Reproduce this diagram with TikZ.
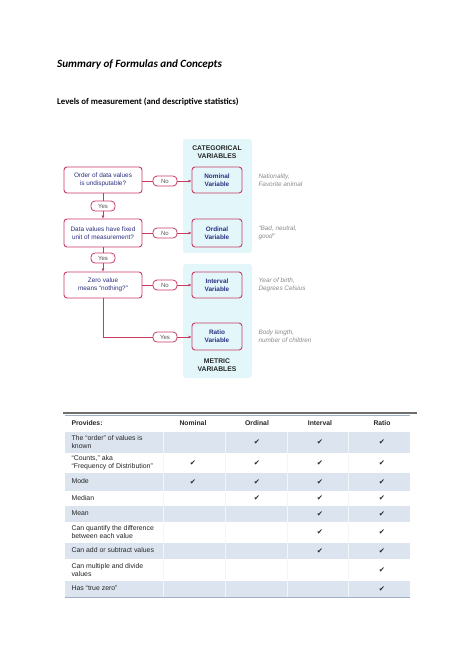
\documentclass[tikz,border=0pt]{standalone}
\usepackage{fontspec}
\setmainfont{Liberation Sans}
\newfontfamily\calibri{Carlito}
\newfontfamily\dejavu{DejaVu Sans}
\usetikzlibrary{arrows.meta}
\definecolor{crim}{HTML}{C93A62}
\definecolor{navy}{HTML}{2B2F80}
\definecolor{pillgray}{HTML}{555555}
\definecolor{cyanbg}{HTML}{E3F7FB}
\definecolor{sidegray}{HTML}{8A8A8A}
\definecolor{rowshade}{HTML}{DCE5EF}
\definecolor{rulegray}{HTML}{6E6E6E}
\definecolor{rulelight}{HTML}{9FB0C4}
\begin{document}
\begin{tikzpicture}[x=1pt,y=-1pt,
  decision/.style={draw=crim, line width=0.9pt, rounded corners=3pt, minimum width=78pt,
    minimum height=26pt, align=center, text=navy, inner sep=1pt,
    font=\fontsize{6.4}{7.6}\selectfont},
  result/.style={decision, minimum width=50pt, font=\fontsize{6.4}{7.6}\selectfont\bfseries},
  pill/.style={draw=crim, line width=0.8pt, rounded corners=4pt, minimum width=24pt,
    minimum height=10pt, inner sep=0pt, text=pillgray, fill=white,
    font=\fontsize{6}{6.5}\selectfont},
  conn/.style={draw=crim, color=crim, line width=1pt},
  arr/.style={conn, -{Latex[length=3pt,width=3pt]}},
  groupbg/.style={fill=cyanbg, rounded corners=3pt},
  grouplabel/.style={align=center, font=\fontsize{6.8}{8}\selectfont\bfseries, text=black!85},
  side/.style={anchor=west, align=left, text=sidegray, font=\fontsize{6.4}{7.6}\selectfont\itshape},
  rowtext/.style={anchor=west, align=left, text=black!85, font=\fontsize{6.9}{8}\selectfont},
  headtext/.style={font=\fontsize{6.8}{8}\selectfont\bfseries, text=black!85},
  chk/.style={font=\dejavu\fontsize{7.3}{8}\selectfont, text=black!85}
]
\useasboundingbox[fill=white] (0,0) rectangle (474,670);

% Titles
\node[anchor=west, inner sep=0pt, font=\calibri\bfseries\itshape\fontsize{11.1}{13}\selectfont] (title) at (57,64) {Summary of Formulas and Concepts};
\node[anchor=west, inner sep=0pt, font=\calibri\bfseries\fontsize{8.8}{10}\selectfont] (subtitle) at (57,102) {Levels of measurement (and descriptive statistics)};

% Group backgrounds
\path[groupbg] (183,139) rectangle (252,253);
\path[groupbg] (183,264) rectangle (252,378);
\node[grouplabel] (catlab) at (217,152) {CATEGORICAL\\VARIABLES};
\node[grouplabel] (metlab) at (217,365) {METRIC\\VARIABLES};

% Decision boxes
\node[decision] (d1) at (103,180) {Order of data values\\is undisputable?};
\node[decision, minimum height=28pt] (d2) at (103,233) {Data values have fixed\\unit of measurement?};
\node[decision] (d3) at (103,285) {Zero value\\means “nothing?”};

% Result boxes
\node[result] (r1) at (217,180) {Nominal\\Variable};
\node[result, minimum height=28pt] (r2) at (217,233) {Ordinal\\Variable};
\node[result] (r3) at (217,285) {Interval\\Variable};
\node[result, minimum height=27pt] (r4) at (217,336.5) {Ratio\\Variable};

% Pills
\node[pill] (no1) at (165,181) {No};
\node[pill] (no2) at (165,233) {No};
\node[pill] (no3) at (165,285) {No};
\node[pill] (yes1) at (103,206) {Yes};
\node[pill] (yes2) at (103,258) {Yes};
\node[pill] (yes3) at (165,337) {Yes};

% Connectors
\draw[conn] (d1.east |- no1) -- (no1.west);
\draw[arr] (no1.east) -- (r1.west |- no1);
\draw[conn] (d2.east) -- (no2.west);
\draw[arr] (no2.east) -- (r2.west);
\draw[conn] (d3.east) -- (no3.west);
\draw[arr] (no3.east) -- (r3.west);
\draw[conn] (d1.south) -- (yes1.north);
\draw[arr] (yes1.south) -- (d2.north);
\draw[conn] (d2.south) -- (yes2.north);
\draw[arr] (yes2.south) -- (d3.north);
\draw[conn] (d3.south) |- (yes3.west);
\draw[arr] (yes3.east) -- (r4.west |- yes3);

% Side notes
\node[side] (s1) at (255,180) {Nationality,\\Favorite animal};
\node[side] (s2) at (255,233) {“Bad, neutral,\\good”};
\node[side] (s3) at (255,285) {Year of birth,\\Degrees Celsius};
\node[side] (s4) at (255,336) {Body length,\\number of children};

% Table shading
\foreach \a/\b in {432/453, 473/491, 506/522, 543/559, 581/597}
  \fill[rowshade] (65,\a) rectangle (410,\b);
\foreach \x in {163,225,287,348}
  \draw[rowshade!35!white, line width=0.5pt] (\x,432) -- (\x,597);
\draw[rulegray, line width=1.4pt] (63,413) -- (417,413);
\draw[rulelight, line width=0.5pt] (65,415.5) -- (410,415.5);
\draw[rulelight, line width=0.6pt] (65,597) -- (410,597);

% Header
\node[headtext, anchor=west] (hprov) at (68,423.5) {Provides:};
\node[headtext] (hnom) at (193,423.5) {Nominal};
\node[headtext] (hord) at (257,423.5) {Ordinal};
\node[headtext] (hint) at (320,423.5) {Interval};
\node[headtext] (hrat) at (382,423.5) {Ratio};

% Row labels
\node[rowtext] (t1) at (68,442.5) {The “order” of values is\\known};
\node[rowtext] (t2) at (68,463) {“Counts,” aka\\“Frequency of Distribution”};
\node[rowtext] (t3) at (68,481.5) {Mode};
\node[rowtext] (t4) at (68,498) {Median};
\node[rowtext] (t5) at (68,513.5) {Mean};
\node[rowtext] (t6) at (68,532.5) {Can quantify the difference\\between each value};
\node[rowtext] (t7) at (68,550.5) {Can add or subtract values};
\node[rowtext] (t8) at (68,570) {Can multiple and divide\\values};
\node[rowtext] (t9) at (68,588.5) {Has “true zero”};

% Check marks
\foreach \y/\cols [count=\r] in {442.5/{257,320,382}, 463/{193,257,320,382}, 482/{193,257,320,382},
    498.5/{257,320,382}, 514/{320,382}, 532.5/{320,382}, 551/{320,382}, 570/{382}, 589/{382}}
  \foreach \x [count=\c] in \cols
    \node[chk] (chk-\r-\c) at (\x,\y) {✔};
\end{tikzpicture}
\end{document}
